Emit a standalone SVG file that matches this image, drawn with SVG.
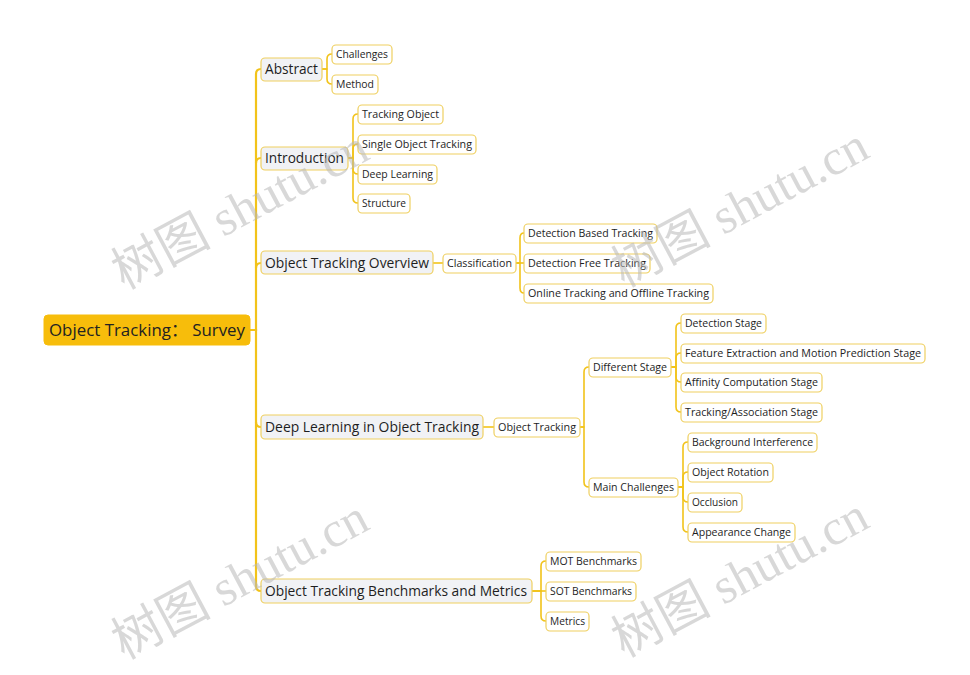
<svg xmlns="http://www.w3.org/2000/svg" width="970" height="675" viewBox="0 0 970 675">
<defs>
<style>
.bg{fill:#ffffff}
.c{fill:none;stroke:#f2c31a;stroke-width:1.6;stroke-linejoin:round}
.trunk{fill:none;stroke:#f2c31a;stroke-width:2.2}
.root rect{fill:#f7bd0b;stroke:#f7bd0b}
.root text{font-family:"Open Sans","Noto Sans CJK SC",sans-serif;font-size:17px;fill:#222}
.l1 rect{fill:#f1f2f5;stroke:#efd061;stroke-width:1.2}
.l1 text{font-family:"Open Sans","Noto Sans",sans-serif;font-size:14px;fill:#1e1e1e}
.l2 rect{fill:#ffffff;stroke:#efd061;stroke-width:1.2}
.l2 text{font-family:"Open Sans","Noto Sans",sans-serif;font-size:11px;fill:#1e1e1e}
.wm{font-family:"Liberation Serif","Noto Sans CJK SC",serif;font-size:50px;fill:#b8b8b8;fill-opacity:0.55}
</style>
</defs>
<rect class="bg" x="0" y="0" width="970" height="675"/>

<g id="connectors">
<path class="trunk" d="M250,330 H256 V74 Q256,69 261,69"/>
<path class="trunk" d="M256,163 Q256,158 261,158"/>
<path class="trunk" d="M256,268 Q256,263 261,263"/>
<path class="trunk" d="M250,330 H256 V586 Q256,591 261,591"/>
<path class="trunk" d="M256,422 Q256,427 261,427"/>

<path class="c" d="M322,69 H327 V59 Q327,54 332,54"/>
<path class="c" d="M322,69 H327 V79 Q327,84 332,84"/>

<path class="c" d="M348,158 H353 V119 Q353,114 358,114"/>
<path class="c" d="M348,158 H353 V149 Q353,144 358,144"/>
<path class="c" d="M348,158 H353 V169 Q353,174 358,174"/>
<path class="c" d="M348,158 H353 V198 Q353,203 358,203"/>

<path class="c" d="M433,263 H443"/>
<path class="c" d="M516,263 H520 V238 Q520,233 524,233"/>
<path class="c" d="M516,263 H524"/>
<path class="c" d="M516,263 H520 V288 Q520,293 524,293"/>

<path class="c" d="M483,427 H494"/>
<path class="c" d="M580,427 H584 V372 Q584,367 589,367"/>
<path class="c" d="M580,427 H584 V482 Q584,487 589,487"/>

<path class="c" d="M671,367 H676 V328 Q676,323 681,323"/>
<path class="c" d="M671,367 H676 V358 Q676,353 681,353"/>
<path class="c" d="M671,367 H676 V377 Q676,382 681,382"/>
<path class="c" d="M671,367 H676 V407 Q676,412 681,412"/>

<path class="c" d="M678,487 H683 V447 Q683,442 688,442"/>
<path class="c" d="M678,487 H683 V477 Q683,472 688,472"/>
<path class="c" d="M678,487 H683 V497 Q683,502 688,502"/>
<path class="c" d="M678,487 H683 V527 Q683,532 688,532"/>

<path class="c" d="M532,591 H541 V566 Q541,561 546,561"/>
<path class="c" d="M532,591 H546"/>
<path class="c" d="M532,591 H541 V616 Q541,621 546,621"/>
</g>

<g id="root" class="root"><rect x="44" y="315" width="206" height="30" rx="4"/><text x="49" y="336" textLength="196" lengthAdjust="spacingAndGlyphs">Object Tracking： Survey</text></g>

<g id="abstract" class="l1"><rect x="261" y="58" width="61" height="23" rx="4"/><text x="265" y="74" textLength="53" lengthAdjust="spacingAndGlyphs">Abstract</text></g>
<g id="introduction" class="l1"><rect x="261" y="147" width="87" height="23" rx="4"/><text x="265" y="163" textLength="79" lengthAdjust="spacingAndGlyphs">Introduction</text></g>
<g id="overview" class="l1"><rect x="261" y="251" width="172" height="23" rx="4"/><text x="265" y="268" textLength="164" lengthAdjust="spacingAndGlyphs">Object Tracking Overview</text></g>
<g id="deeplearning" class="l1"><rect x="261" y="415" width="222" height="24" rx="4"/><text x="265" y="432" textLength="214" lengthAdjust="spacingAndGlyphs">Deep Learning in Object Tracking</text></g>
<g id="benchmarks" class="l1"><rect x="261" y="579" width="271" height="24" rx="4"/><text x="265" y="596" textLength="262" lengthAdjust="spacingAndGlyphs">Object Tracking Benchmarks and Metrics</text></g>

<g id="challenges" class="l2"><rect x="332" y="45" width="60" height="19" rx="4"/><text x="336" y="58" textLength="52" lengthAdjust="spacingAndGlyphs">Challenges</text></g>
<g id="method" class="l2"><rect x="332" y="75" width="46" height="19" rx="4"/><text x="336" y="88" textLength="38" lengthAdjust="spacingAndGlyphs">Method</text></g>

<g id="trackingobject" class="l2"><rect x="358" y="105" width="85" height="19" rx="4"/><text x="362" y="118" textLength="77" lengthAdjust="spacingAndGlyphs">Tracking Object</text></g>
<g id="singleobject" class="l2"><rect x="358" y="135" width="118" height="19" rx="4"/><text x="362" y="148" textLength="110" lengthAdjust="spacingAndGlyphs">Single Object Tracking</text></g>
<g id="deeplearning2" class="l2"><rect x="358" y="165" width="79" height="19" rx="4"/><text x="362" y="178" textLength="71" lengthAdjust="spacingAndGlyphs">Deep Learning</text></g>
<g id="structure" class="l2"><rect x="358" y="194" width="52" height="19" rx="4"/><text x="362" y="207" textLength="44" lengthAdjust="spacingAndGlyphs">Structure</text></g>

<g id="classification" class="l2"><rect x="443" y="254" width="73" height="19" rx="4"/><text x="447" y="267" textLength="65" lengthAdjust="spacingAndGlyphs">Classification</text></g>
<g id="detbased" class="l2"><rect x="524" y="224" width="133" height="19" rx="4"/><text x="528" y="237" textLength="125" lengthAdjust="spacingAndGlyphs">Detection Based Tracking</text></g>
<g id="detfree" class="l2"><rect x="524" y="254" width="126" height="19" rx="4"/><text x="528" y="267" textLength="118" lengthAdjust="spacingAndGlyphs">Detection Free Tracking</text></g>
<g id="onlineoffline" class="l2"><rect x="524" y="284" width="189" height="19" rx="4"/><text x="528" y="297" textLength="181" lengthAdjust="spacingAndGlyphs">Online Tracking and Offline Tracking</text></g>

<g id="objecttracking" class="l2"><rect x="494" y="418" width="86" height="19" rx="4"/><text x="498" y="431" textLength="78" lengthAdjust="spacingAndGlyphs">Object Tracking</text></g>
<g id="differentstage" class="l2"><rect x="589" y="358" width="82" height="19" rx="4"/><text x="593" y="371" textLength="74" lengthAdjust="spacingAndGlyphs">Different Stage</text></g>
<g id="mainchallenges" class="l2"><rect x="589" y="478" width="89" height="19" rx="4"/><text x="593" y="491" textLength="81" lengthAdjust="spacingAndGlyphs">Main Challenges</text></g>

<g id="detectionstage" class="l2"><rect x="681" y="314" width="85" height="19" rx="4"/><text x="685" y="327" textLength="77" lengthAdjust="spacingAndGlyphs">Detection Stage</text></g>
<g id="featurestage" class="l2"><rect x="681" y="344" width="244" height="19" rx="4"/><text x="685" y="357" textLength="236" lengthAdjust="spacingAndGlyphs">Feature Extraction and Motion Prediction Stage</text></g>
<g id="affinitystage" class="l2"><rect x="681" y="373" width="141" height="19" rx="4"/><text x="685" y="386" textLength="133" lengthAdjust="spacingAndGlyphs">Affinity Computation Stage</text></g>
<g id="trackingstage" class="l2"><rect x="681" y="403" width="141" height="19" rx="4"/><text x="685" y="416" textLength="133" lengthAdjust="spacingAndGlyphs">Tracking/Association Stage</text></g>

<g id="background" class="l2"><rect x="688" y="433" width="129" height="19" rx="4"/><text x="692" y="446" textLength="121" lengthAdjust="spacingAndGlyphs">Background Interference</text></g>
<g id="rotation" class="l2"><rect x="688" y="463" width="85" height="19" rx="4"/><text x="692" y="476" textLength="77" lengthAdjust="spacingAndGlyphs">Object Rotation</text></g>
<g id="occlusion" class="l2"><rect x="688" y="493" width="54" height="19" rx="4"/><text x="692" y="506" textLength="46" lengthAdjust="spacingAndGlyphs">Occlusion</text></g>
<g id="appearance" class="l2"><rect x="688" y="523" width="107" height="19" rx="4"/><text x="692" y="536" textLength="99" lengthAdjust="spacingAndGlyphs">Appearance Change</text></g>

<g id="mot" class="l2"><rect x="546" y="552" width="95" height="19" rx="4"/><text x="550" y="565" textLength="87" lengthAdjust="spacingAndGlyphs">MOT Benchmarks</text></g>
<g id="sot" class="l2"><rect x="546" y="582" width="90" height="19" rx="4"/><text x="550" y="595" textLength="82" lengthAdjust="spacingAndGlyphs">SOT Benchmarks</text></g>
<g id="metrics" class="l2"><rect x="546" y="612" width="43" height="19" rx="4"/><text x="550" y="625" textLength="35" lengthAdjust="spacingAndGlyphs">Metrics</text></g>

<g id="watermarks">
<text class="wm" transform="translate(124,290) rotate(-28)">树图 shutu.cn</text>
<text class="wm" transform="translate(624,288) rotate(-28)">树图 shutu.cn</text>
<text class="wm" transform="translate(124,660) rotate(-28)">树图 shutu.cn</text>
<text class="wm" transform="translate(624,658) rotate(-28)">树图 shutu.cn</text>
</g>
</svg>
